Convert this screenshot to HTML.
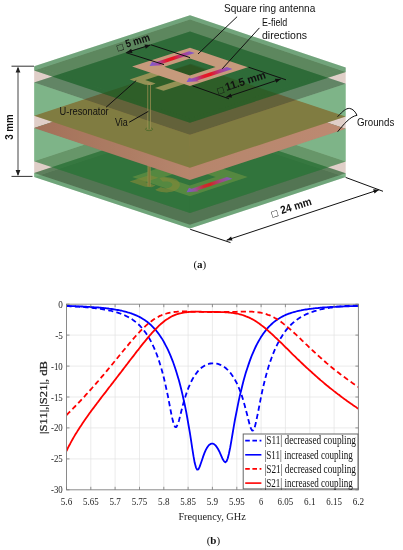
<!DOCTYPE html>
<html><head><meta charset="utf-8"><title>Figure</title><style>html,body{margin:0;padding:0;background:#fff}svg{display:block}</style></head><body>
<svg width="403" height="550" viewBox="0 0 403 550">
<rect width="403" height="550" fill="#fff"/>
<polygon points="34.2,176.9 190.0,125.4 345.7,177.1 189.9,228.6" fill="#0e5a1e" fill-opacity="0.425"/>
<polygon points="34.2,173.0 190.0,121.5 190.0,125.4 34.2,176.9" fill="#28823a" fill-opacity="0.370"/>
<polygon points="190.0,121.5 345.7,173.2 345.7,177.1 190.0,125.4" fill="#28823a" fill-opacity="0.370"/>
<polygon points="34.2,173.0 189.9,224.7 189.9,228.6 34.2,176.9" fill="#28823a" fill-opacity="0.370"/>
<polygon points="189.9,224.7 345.7,173.2 345.7,177.1 189.9,228.6" fill="#28823a" fill-opacity="0.370"/>
<polygon points="34.2,173.0 190.0,121.5 345.7,173.2 189.9,224.7" fill="#0e5a1e" fill-opacity="0.425"/>
<polygon points="34.2,173.0 190.0,121.5 345.7,173.2 189.9,224.7" fill="#efe6e2" style="mix-blend-mode:multiply"/>
<polygon points="34.2,161.2 190.0,109.8 190.0,121.5 34.2,173.0" fill="#efe6e2" style="mix-blend-mode:multiply"/>
<polygon points="190.0,109.8 345.7,161.6 345.7,173.2 190.0,121.5" fill="#efe6e2" style="mix-blend-mode:multiply"/>
<polygon points="34.2,161.2 189.9,213.0 189.9,224.7 34.2,173.0" fill="#efe6e2" style="mix-blend-mode:multiply"/>
<polygon points="189.9,213.0 345.7,161.6 345.7,173.2 189.9,224.7" fill="#efe6e2" style="mix-blend-mode:multiply"/>
<polygon points="34.2,161.2 190.0,109.8 345.7,161.6 189.9,213.0" fill="#efe6e2" style="mix-blend-mode:multiply"/>
<polygon points="34.2,161.2 190.0,109.8 345.7,161.6 189.9,213.0" fill="#105e20" fill-opacity="0.400"/>
<polygon points="34.2,128.0 190.0,76.8 190.0,109.8 34.2,161.2" fill="#28823a" fill-opacity="0.370"/>
<polygon points="190.0,76.8 345.7,128.7 345.7,161.6 190.0,109.8" fill="#28823a" fill-opacity="0.370"/>
<polygon points="34.2,128.0 189.9,180.0 189.9,213.0 34.2,161.2" fill="#28823a" fill-opacity="0.370"/>
<polygon points="189.9,180.0 345.7,128.7 345.7,161.6 189.9,213.0" fill="#28823a" fill-opacity="0.370"/>
<polygon points="34.2,128.0 190.0,76.8 345.7,128.7 189.9,180.0" fill="#105c20" fill-opacity="0.390"/>
<path d="M132.1 177.0 L190.0 157.8 L247.8 177.0 L189.9 196.2 Z M189.9 185.5 L215.6 177.0 L190.0 168.5 L164.3 177.0 Z" fill="#90a848" fill-opacity="0.38" fill-rule="evenodd"/>
<g opacity="0.85"><linearGradient id="ga3" gradientUnits="userSpaceOnUse" x1="229.7" y1="177.9" x2="186.5" y2="192.2"><stop offset="0" stop-color="#8458c8"/><stop offset="0.22" stop-color="#b03c8c"/><stop offset="0.45" stop-color="#e8141e"/><stop offset="0.6" stop-color="#e01a30"/><stop offset="0.8" stop-color="#a04aa8"/><stop offset="1" stop-color="#7a5cd8"/></linearGradient><polygon points="226.9,177.0 191.5,188.7 189.0,187.8 186.5,192.2 199.6,191.3 197.1,190.5 232.5,178.8" fill="url(#ga3)"/></g>
<path d="M129.6 181.6 L149.8 174.9 L158.4 177.7 L145.2 182.1 L155.6 185.6 L151.9 187.2 L145.2 186.7 Z M159.3 178.1 L161.7 177.5 L164.3 177.2 L166.9 177.2 L169.5 177.4 L172.0 177.9 L174.2 178.7 L176.2 179.6 L177.8 180.8 L178.9 182.0 L179.7 183.4 L179.9 184.8 L179.6 186.2 L178.9 187.6 L177.7 188.9 L176.1 190.0 L174.1 190.9 L171.9 191.7 L169.4 192.1 L166.8 192.4 L164.2 192.3 L161.6 192.0 L159.2 191.5 L157.0 190.7 L155.2 189.7 L161.0 187.0 L161.8 187.4 L162.8 187.8 L163.9 188.0 L165.1 188.2 L166.3 188.2 L167.5 188.1 L168.6 187.9 L169.7 187.5 L170.6 187.1 L171.3 186.6 L171.8 186.0 L172.2 185.4 L172.3 184.8 L172.2 184.2 L171.9 183.5 L171.3 183.0 L170.6 182.5 L169.7 182.0 L168.7 181.7 L167.5 181.5 L166.4 181.4 L165.2 181.4 L164.0 181.5 L162.9 181.8 Z" fill="#808838" fill-opacity="0.68"/>
<rect x="147.5" y="141.5" width="3.2" height="45.0" fill="#8c8a4a"/>
<rect x="148.6" y="141.5" width="1.0" height="45.0" fill="#7a7030"/>
<linearGradient id="gcu" gradientUnits="userSpaceOnUse" x1="40" y1="0" x2="345" y2="0"><stop offset="0" stop-color="#ba8c72"/><stop offset="0.5" stop-color="#d0a48a"/><stop offset="1" stop-color="#d8aa90"/></linearGradient>
<polygon points="34.2,128.0 190.0,76.8 345.7,128.7 189.9,180.0" fill="url(#gcu)"/>
<polygon points="34.2,128.0 190.0,76.8 345.7,128.7 189.9,180.0" fill="#efe6e2" style="mix-blend-mode:multiply"/>
<polygon points="34.2,115.7 190.0,64.5 190.0,76.8 34.2,128.0" fill="#efe6e2" style="mix-blend-mode:multiply"/>
<polygon points="190.0,64.5 345.7,116.6 345.7,128.7 190.0,76.8" fill="#efe6e2" style="mix-blend-mode:multiply"/>
<polygon points="34.2,115.7 189.9,167.7 189.9,180.0 34.2,128.0" fill="#efe6e2" style="mix-blend-mode:multiply"/>
<polygon points="189.9,167.7 345.7,116.6 345.7,128.7 189.9,180.0" fill="#efe6e2" style="mix-blend-mode:multiply"/>
<polygon points="34.2,115.7 190.0,64.5 345.7,116.6 189.9,167.7" fill="#efe6e2" style="mix-blend-mode:multiply"/>
<polygon points="34.2,115.7 190.0,64.5 345.7,116.6 189.9,167.7" fill="#b47947"/>
<ellipse cx="149.1" cy="129.2" rx="3.6" ry="1.5" fill="none" stroke="#5a5a20" stroke-width="0.8"/>
<polygon points="34.2,82.5 190.0,31.5 190.0,64.5 34.2,115.7" fill="#28823a" fill-opacity="0.370"/>
<polygon points="190.0,31.5 345.7,83.7 345.7,116.6 190.0,64.5" fill="#28823a" fill-opacity="0.370"/>
<rect x="147.3" y="84.0" width="3.6" height="45.2" fill="#b08c50"/>
<rect x="148.5" y="84.0" width="1.2" height="45.2" fill="#7a6a30"/>
<polygon points="34.2,82.5 189.9,134.7 189.9,167.7 34.2,115.7" fill="#28823a" fill-opacity="0.370"/>
<polygon points="189.9,134.7 345.7,83.7 345.7,116.6 189.9,167.7" fill="#28823a" fill-opacity="0.370"/>
<polygon points="34.2,82.5 190.0,31.5 345.7,83.7 189.9,134.7" fill="#2d784b" fill-opacity="0.500"/>
<polygon points="34.2,82.5 190.0,31.5 345.7,83.7 189.9,134.7" fill="#efe6e2" style="mix-blend-mode:multiply"/>
<polygon points="34.2,70.5 190.0,19.6 190.0,31.5 34.2,82.5" fill="#efe6e2" style="mix-blend-mode:multiply"/>
<polygon points="190.0,19.6 345.7,71.9 345.7,83.7 190.0,31.5" fill="#efe6e2" style="mix-blend-mode:multiply"/>
<polygon points="34.2,70.5 189.9,122.8 189.9,134.7 34.2,82.5" fill="#efe6e2" style="mix-blend-mode:multiply"/>
<polygon points="189.9,122.8 345.7,71.9 345.7,83.7 189.9,134.7" fill="#efe6e2" style="mix-blend-mode:multiply"/>
<polygon points="34.2,70.5 190.0,19.6 345.7,71.9 189.9,122.8" fill="#efe6e2" style="mix-blend-mode:multiply"/>
<polygon points="34.2,70.5 190.0,19.6 345.7,71.9 189.9,122.8" fill="#105c20" fill-opacity="0.390"/>
<polygon points="34.2,66.2 190.0,15.3 190.0,19.6 34.2,70.5" fill="#28823a" fill-opacity="0.370"/>
<polygon points="190.0,15.3 345.7,67.6 345.7,71.9 190.0,19.6" fill="#28823a" fill-opacity="0.370"/>
<polygon points="167.4,71.3 190.7,63.7 214.1,71.5 190.7,79.2" fill="#3a3a10" fill-opacity="0.350"/>
<polygon points="129.6,79.4 163.5,68.3 197.3,79.7 163.5,90.8 154.9,87.9 182.5,78.9 165.8,73.3 145.2,80.0 155.6,83.5 151.9,85.1 145.2,84.7" fill="#e6b478"/>
<polygon points="34.2,66.2 189.9,118.5 189.9,122.8 34.2,70.5" fill="#105c20" fill-opacity="0.390"/>
<polygon points="189.9,118.5 345.7,67.6 345.7,71.9 189.9,122.8" fill="#105c20" fill-opacity="0.390"/>
<polygon points="34.2,66.2 190.0,15.3 345.7,67.6 189.9,118.5" fill="#105c20" fill-opacity="0.390"/>
<path d="M132.1 66.6 L190.0 47.7 L247.8 67.2 L189.9 86.1 Z M189.9 75.4 L215.6 67.0 L190.0 58.4 L164.3 66.8 Z" fill="#c69a7c" fill-rule="evenodd"/>
<g opacity="0.75"><rect x="147.2" y="84.0" width="1.1" height="45.2" fill="#9c8c50"/><rect x="149.9" y="84.0" width="1.1" height="45.2" fill="#9c8c50"/><ellipse cx="149.1" cy="84.0" rx="1.8" ry="0.8" fill="#b09860"/></g>
<linearGradient id="ga1" gradientUnits="userSpaceOnUse" x1="192.0" y1="52.2" x2="149.5" y2="66.1"><stop offset="0" stop-color="#8458c8"/><stop offset="0.22" stop-color="#b03c8c"/><stop offset="0.45" stop-color="#e8141e"/><stop offset="0.6" stop-color="#e01a30"/><stop offset="0.8" stop-color="#a04aa8"/><stop offset="1" stop-color="#7a5cd8"/></linearGradient><polygon points="189.2,51.3 154.5,62.6 152.0,61.8 149.5,66.1 162.6,65.3 160.1,64.5 194.8,53.1" fill="url(#ga1)"/>
<linearGradient id="ga2" gradientUnits="userSpaceOnUse" x1="229.7" y1="68.0" x2="186.5" y2="82.1"><stop offset="0" stop-color="#8458c8"/><stop offset="0.22" stop-color="#b03c8c"/><stop offset="0.45" stop-color="#e8141e"/><stop offset="0.6" stop-color="#e01a30"/><stop offset="0.8" stop-color="#a04aa8"/><stop offset="1" stop-color="#7a5cd8"/></linearGradient><polygon points="226.9,67.0 191.5,78.6 189.0,77.7 186.5,82.1 199.6,81.3 197.1,80.5 232.5,68.9" fill="url(#ga2)"/>
<line x1="18.0" y1="68.0" x2="18.0" y2="175.0" stroke="#444" stroke-width="1.00"/>
<polygon points="18.0,66.6 20.4,72.6 15.6,72.6" fill="#222"/>
<polygon points="18.0,176.0 15.6,170.0 20.4,170.0" fill="#222"/>
<line x1="11.5" y1="66.2" x2="34.0" y2="66.2" stroke="#333" stroke-width="1.00"/>
<line x1="11.5" y1="176.4" x2="32.5" y2="176.4" stroke="#333" stroke-width="1.00"/>
<text transform="translate(13,139.8) rotate(-90)" font-family="'Liberation Sans', 'DejaVu Sans', sans-serif" font-size="10.8" font-weight="bold" fill="#111" textLength="25.6" lengthAdjust="spacingAndGlyphs">3 mm</text>
<line x1="125.9" y1="52.6" x2="164.0" y2="64.6" stroke="#111" stroke-width="1.00"/>
<line x1="151.0" y1="44.8" x2="190.0" y2="57.6" stroke="#111" stroke-width="1.00"/>
<line x1="126.6" y1="52.4" x2="150.4" y2="45.0" stroke="#111" stroke-width="1.00"/><polygon points="126.6,52.4 131.2,48.7 132.5,52.9" fill="#111"/><polygon points="150.4,45.0 145.8,48.7 144.5,44.5" fill="#111"/>
<g transform="translate(118,50.6) rotate(-17.5)"><text x="-0.8" y="-0.2" font-family="DejaVu Sans, Liberation Sans, sans-serif" font-size="8" font-weight="bold" fill="#111">□</text><text x="9.2" y="0" font-family="'Liberation Sans', 'DejaVu Sans', sans-serif" font-size="11" font-weight="bold" fill="#111" textLength="25" lengthAdjust="spacingAndGlyphs">5 mm</text></g>
<line x1="192.5" y1="85.8" x2="229.0" y2="98.8" stroke="#111" stroke-width="1.00"/>
<line x1="248.5" y1="67.2" x2="286.0" y2="79.8" stroke="#111" stroke-width="1.00"/>
<line x1="226.2" y1="97.2" x2="280.8" y2="79.0" stroke="#111" stroke-width="1.00"/><polygon points="226.2,97.2 230.7,93.4 232.1,97.5" fill="#111"/><polygon points="280.8,79.0 276.3,82.8 274.9,78.7" fill="#111"/>
<g transform="translate(218.5,93.6) rotate(-18)"><text x="-0.8" y="-0.2" font-family="DejaVu Sans, Liberation Sans, sans-serif" font-size="8" font-weight="bold" fill="#111">□</text><text x="8.5" y="0" font-family="'Liberation Sans', 'DejaVu Sans', sans-serif" font-size="11" font-weight="bold" fill="#111" textLength="42" lengthAdjust="spacingAndGlyphs">11.5 mm</text></g>
<line x1="190.2" y1="229.3" x2="230.5" y2="242.6" stroke="#111" stroke-width="1.00"/>
<line x1="345.6" y1="177.4" x2="383.0" y2="191.3" stroke="#111" stroke-width="1.00"/>
<line x1="226.6" y1="240.2" x2="379.0" y2="189.7" stroke="#111" stroke-width="1.00"/><polygon points="226.6,240.2 231.1,236.4 232.5,240.6" fill="#111"/><polygon points="379.0,189.7 374.5,193.5 373.1,189.3" fill="#111"/>
<g transform="translate(272.6,217) rotate(-17.5)"><text x="-0.8" y="-0.2" font-family="DejaVu Sans, Liberation Sans, sans-serif" font-size="8" font-weight="bold" fill="#111">□</text><text x="9.6" y="0" font-family="'Liberation Sans', 'DejaVu Sans', sans-serif" font-size="11" font-weight="bold" fill="#111" textLength="32" lengthAdjust="spacingAndGlyphs">24 mm</text></g>
<line x1="237.1" y1="16.7" x2="198.0" y2="54.0" stroke="#111" stroke-width="1.00"/>
<line x1="259.4" y1="27.9" x2="222.2" y2="68.8" stroke="#111" stroke-width="1.00"/>
<line x1="106.0" y1="107.3" x2="136.2" y2="80.6" stroke="#111" stroke-width="1.00"/>
<line x1="129.1" y1="122.3" x2="148.3" y2="111.4" stroke="#111" stroke-width="1.00"/>
<path d="M337.6 116.7 C343 111 346 108.2 349.5 108.4 C353 108.8 355.5 112 357 115.3 C350 116.5 344 124 337.6 131.8" fill="none" stroke="#111" stroke-width="1"/>
<text x="224.0" y="12.0" font-family="'Liberation Sans', 'DejaVu Sans', sans-serif" font-size="10.6" font-weight="normal" fill="#111" text-anchor="start" textLength="91.3" lengthAdjust="spacingAndGlyphs">Square ring antenna</text>
<text x="262.0" y="26.0" font-family="'Liberation Sans', 'DejaVu Sans', sans-serif" font-size="10.6" font-weight="normal" fill="#111" text-anchor="start" textLength="25.3" lengthAdjust="spacingAndGlyphs">E-field</text>
<text x="262.0" y="39.0" font-family="'Liberation Sans', 'DejaVu Sans', sans-serif" font-size="10.6" font-weight="normal" fill="#111" text-anchor="start" textLength="45.0" lengthAdjust="spacingAndGlyphs">directions</text>
<text x="59.6" y="115.0" font-family="'Liberation Sans', 'DejaVu Sans', sans-serif" font-size="10.6" font-weight="normal" fill="#111" text-anchor="start" textLength="49.1" lengthAdjust="spacingAndGlyphs">U-resonator</text>
<text x="115.0" y="125.9" font-family="'Liberation Sans', 'DejaVu Sans', sans-serif" font-size="10.6" font-weight="normal" fill="#111" text-anchor="start" textLength="12.8" lengthAdjust="spacingAndGlyphs">Via</text>
<text x="357.0" y="125.6" font-family="'Liberation Sans', 'DejaVu Sans', sans-serif" font-size="10.6" font-weight="normal" fill="#111" text-anchor="start" textLength="37.3" lengthAdjust="spacingAndGlyphs">Grounds</text>
<text x="199.8" y="268.1" font-family="'Liberation Serif', 'DejaVu Serif', serif" font-size="11" fill="#111" text-anchor="middle">(<tspan font-weight="bold">a</tspan>)</text>
<rect x="66.5" y="304.2" width="291.9" height="185.6" fill="#fff"/>
<line x1="90.8" y1="304.2" x2="90.8" y2="489.8" stroke="#e2e2e2" stroke-width="0.70"/>
<line x1="115.1" y1="304.2" x2="115.1" y2="489.8" stroke="#e2e2e2" stroke-width="0.70"/>
<line x1="139.5" y1="304.2" x2="139.5" y2="489.8" stroke="#e2e2e2" stroke-width="0.70"/>
<line x1="163.8" y1="304.2" x2="163.8" y2="489.8" stroke="#e2e2e2" stroke-width="0.70"/>
<line x1="188.1" y1="304.2" x2="188.1" y2="489.8" stroke="#e2e2e2" stroke-width="0.70"/>
<line x1="212.4" y1="304.2" x2="212.4" y2="489.8" stroke="#e2e2e2" stroke-width="0.70"/>
<line x1="236.8" y1="304.2" x2="236.8" y2="489.8" stroke="#e2e2e2" stroke-width="0.70"/>
<line x1="261.1" y1="304.2" x2="261.1" y2="489.8" stroke="#e2e2e2" stroke-width="0.70"/>
<line x1="285.4" y1="304.2" x2="285.4" y2="489.8" stroke="#e2e2e2" stroke-width="0.70"/>
<line x1="309.8" y1="304.2" x2="309.8" y2="489.8" stroke="#e2e2e2" stroke-width="0.70"/>
<line x1="334.1" y1="304.2" x2="334.1" y2="489.8" stroke="#e2e2e2" stroke-width="0.70"/>
<line x1="66.5" y1="335.1" x2="358.4" y2="335.1" stroke="#e2e2e2" stroke-width="0.70"/>
<line x1="66.5" y1="366.1" x2="358.4" y2="366.1" stroke="#e2e2e2" stroke-width="0.70"/>
<line x1="66.5" y1="397.0" x2="358.4" y2="397.0" stroke="#e2e2e2" stroke-width="0.70"/>
<line x1="66.5" y1="427.9" x2="358.4" y2="427.9" stroke="#e2e2e2" stroke-width="0.70"/>
<line x1="66.5" y1="458.9" x2="358.4" y2="458.9" stroke="#e2e2e2" stroke-width="0.70"/>
<clipPath id="pc"><rect x="66.5" y="304.2" width="291.9" height="185.6"/></clipPath>
<g clip-path="url(#pc)" fill="none" stroke-width="1.8" stroke-linejoin="round">
<path d="M66.5 306.1 L67.7 306.1 L68.9 306.2 L70.2 306.3 L71.4 306.3 L72.6 306.4 L73.8 306.4 L75.0 306.5 L76.3 306.6 L77.5 306.7 L78.7 306.7 L79.9 306.8 L81.2 306.9 L82.4 307.0 L83.6 307.1 L84.8 307.2 L86.0 307.3 L87.3 307.4 L88.5 307.5 L89.7 307.6 L90.9 307.7 L92.1 307.9 L93.4 308.0 L94.6 308.1 L95.8 308.3 L97.0 308.4 L98.3 308.6 L99.5 308.8 L100.7 308.9 L101.9 309.1 L103.1 309.3 L104.4 309.5 L105.6 309.7 L106.8 310.0 L108.0 310.2 L109.2 310.5 L110.5 310.7 L111.7 311.0 L112.9 311.3 L114.1 311.6 L115.4 312.0 L116.6 312.3 L117.8 312.7 L119.0 313.1 L120.2 313.5 L121.5 314.0 L122.7 314.5 L123.9 315.0 L125.1 315.5 L126.3 316.1 L127.6 316.7 L128.8 317.4 L130.0 318.1 L131.2 318.8 L132.5 319.6 L133.7 320.5 L134.9 321.4 L136.1 322.4 L137.3 323.4 L138.6 324.5 L139.8 325.7 L141.0 327.0 L142.2 328.4 L143.4 329.9 L144.7 331.4 L145.9 333.1 L147.1 334.9 L148.3 336.8 L149.6 338.9 L150.8 341.1 L152.0 343.5 L153.2 346.0 L154.4 348.7 L155.7 351.7 L156.9 354.8 L158.1 358.2 L159.3 361.8 L160.5 365.7 L161.8 369.9 L163.0 374.4 L164.2 379.3 L165.4 384.5 L166.6 390.1 L167.9 396.0 L169.1 402.3 L170.3 408.7 L171.5 414.9 L172.8 420.6 L174.0 424.9 L175.2 427.1 L176.4 427.0 L177.6 424.6 L178.9 420.8 L180.1 416.1 L181.3 411.3 L182.5 406.5 L183.7 402.1 L185.0 397.9 L186.2 394.1 L187.4 390.6 L188.6 387.4 L189.9 384.5 L191.1 381.9 L192.3 379.5 L193.5 377.4 L194.7 375.5 L196.0 373.7 L197.2 372.1 L198.4 370.7 L199.6 369.5 L200.8 368.3 L202.1 367.3 L203.3 366.5 L204.5 365.7 L205.7 365.1 L207.0 364.5 L208.2 364.1 L209.4 363.7 L210.6 363.5 L211.8 363.3 L213.1 363.3 L214.3 363.3 L215.5 363.4 L216.7 363.6 L217.9 363.9 L219.2 364.3 L220.4 364.8 L221.6 365.4 L222.8 366.1 L224.1 366.9 L225.3 367.8 L226.5 368.8 L227.7 369.9 L228.9 371.2 L230.2 372.6 L231.4 374.2 L232.6 375.9 L233.8 377.8 L235.0 379.9 L236.3 382.2 L237.5 384.7 L238.7 387.5 L239.9 390.5 L241.2 393.9 L242.4 397.5 L243.6 401.5 L244.8 405.8 L246.0 410.4 L247.3 415.3 L248.5 420.2 L249.7 424.8 L250.9 428.4 L252.1 430.5 L253.4 430.3 L254.6 427.7 L255.8 423.1 L257.0 417.4 L258.3 411.1 L259.5 404.8 L260.7 398.6 L261.9 392.7 L263.1 387.2 L264.4 382.0 L265.6 377.2 L266.8 372.7 L268.0 368.5 L269.2 364.6 L270.5 360.9 L271.7 357.5 L272.9 354.3 L274.1 351.3 L275.3 348.5 L276.6 345.8 L277.8 343.4 L279.0 341.1 L280.2 338.9 L281.5 336.9 L282.7 335.0 L283.9 333.2 L285.1 331.5 L286.3 329.9 L287.6 328.4 L288.8 327.0 L290.0 325.7 L291.2 324.5 L292.4 323.4 L293.7 322.3 L294.9 321.3 L296.1 320.3 L297.3 319.4 L298.6 318.6 L299.8 317.8 L301.0 317.0 L302.2 316.3 L303.4 315.7 L304.7 315.0 L305.9 314.4 L307.1 313.9 L308.3 313.4 L309.5 312.9 L310.8 312.4 L312.0 312.0 L313.2 311.6 L314.4 311.2 L315.7 310.8 L316.9 310.5 L318.1 310.1 L319.3 309.8 L320.5 309.5 L321.8 309.2 L323.0 309.0 L324.2 308.7 L325.4 308.5 L326.6 308.3 L327.9 308.1 L329.1 307.9 L330.3 307.7 L331.5 307.5 L332.8 307.3 L334.0 307.1 L335.2 307.0 L336.4 306.8 L337.6 306.7 L338.9 306.6 L340.1 306.4 L341.3 306.3 L342.5 306.2 L343.7 306.1 L345.0 306.0 L346.2 305.9 L347.4 305.8 L348.6 305.7 L349.9 305.6 L351.1 305.5 L352.3 305.4 L353.5 305.4 L354.7 305.3 L356.0 305.2 L357.2 305.1 L358.4 305.1" stroke="#0000ff" stroke-dasharray="5.2 3.2"/>
<path d="M66.5 306.0 L67.7 306.0 L68.9 306.0 L70.2 306.1 L71.4 306.1 L72.6 306.2 L73.8 306.2 L75.0 306.2 L76.3 306.3 L77.5 306.3 L78.7 306.4 L79.9 306.4 L81.2 306.5 L82.4 306.5 L83.6 306.6 L84.8 306.7 L86.0 306.7 L87.3 306.8 L88.5 306.9 L89.7 306.9 L90.9 307.0 L92.1 307.1 L93.4 307.2 L94.6 307.3 L95.8 307.3 L97.0 307.4 L98.3 307.5 L99.5 307.6 L100.7 307.7 L101.9 307.9 L103.1 308.0 L104.4 308.1 L105.6 308.2 L106.8 308.4 L108.0 308.5 L109.2 308.7 L110.5 308.8 L111.7 309.0 L112.9 309.2 L114.1 309.4 L115.4 309.6 L116.6 309.8 L117.8 310.0 L119.0 310.2 L120.2 310.5 L121.5 310.7 L122.7 311.0 L123.9 311.3 L125.1 311.6 L126.3 311.9 L127.6 312.3 L128.8 312.6 L130.0 313.0 L131.2 313.4 L132.5 313.9 L133.7 314.3 L134.9 314.8 L136.1 315.3 L137.3 315.9 L138.6 316.5 L139.8 317.1 L141.0 317.8 L142.2 318.5 L143.4 319.3 L144.7 320.1 L145.9 320.9 L147.1 321.8 L148.3 322.8 L149.6 323.8 L150.8 324.9 L152.0 326.1 L153.2 327.3 L154.4 328.6 L155.7 330.0 L156.9 331.5 L158.1 333.1 L159.3 334.8 L160.5 336.5 L161.8 338.4 L163.0 340.4 L164.2 342.5 L165.4 344.8 L166.6 347.2 L167.9 349.7 L169.1 352.4 L170.3 355.2 L171.5 358.2 L172.8 361.3 L174.0 364.7 L175.2 368.2 L176.4 372.0 L177.6 376.0 L178.9 380.2 L180.1 384.7 L181.3 389.5 L182.5 394.6 L183.7 400.0 L185.0 405.8 L186.2 411.9 L187.4 418.5 L188.6 425.5 L189.9 432.9 L191.1 440.7 L192.3 448.6 L193.5 456.2 L194.7 462.8 L196.0 467.6 L197.2 469.7 L198.4 469.3 L199.6 466.9 L200.8 463.5 L202.1 459.7 L203.3 456.1 L204.5 452.9 L205.7 450.1 L207.0 447.8 L208.2 446.0 L209.4 444.7 L210.6 443.9 L211.8 443.6 L213.1 443.7 L214.3 444.3 L215.5 445.4 L216.7 446.9 L217.9 448.8 L219.2 451.2 L220.4 453.8 L221.6 456.6 L222.8 459.3 L224.1 461.4 L225.3 462.3 L226.5 461.4 L227.7 458.5 L228.9 453.7 L230.2 447.5 L231.4 440.6 L232.6 433.5 L233.8 426.4 L235.0 419.5 L236.3 413.0 L237.5 406.8 L238.7 400.9 L239.9 395.4 L241.2 390.2 L242.4 385.2 L243.6 380.6 L244.8 376.3 L246.0 372.1 L247.3 368.3 L248.5 364.6 L249.7 361.1 L250.9 357.9 L252.1 354.8 L253.4 351.9 L254.6 349.1 L255.8 346.5 L257.0 344.1 L258.3 341.8 L259.5 339.6 L260.7 337.6 L261.9 335.7 L263.1 333.9 L264.4 332.2 L265.6 330.6 L266.8 329.1 L268.0 327.7 L269.2 326.4 L270.5 325.2 L271.7 324.0 L272.9 322.9 L274.1 321.9 L275.3 321.0 L276.6 320.1 L277.8 319.2 L279.0 318.5 L280.2 317.7 L281.5 317.0 L282.7 316.4 L283.9 315.8 L285.1 315.2 L286.3 314.7 L287.6 314.2 L288.8 313.7 L290.0 313.3 L291.2 312.9 L292.4 312.5 L293.7 312.1 L294.9 311.8 L296.1 311.5 L297.3 311.2 L298.6 310.9 L299.8 310.6 L301.0 310.4 L302.2 310.1 L303.4 309.9 L304.7 309.7 L305.9 309.5 L307.1 309.3 L308.3 309.1 L309.5 308.9 L310.8 308.8 L312.0 308.6 L313.2 308.5 L314.4 308.3 L315.7 308.2 L316.9 308.1 L318.1 308.0 L319.3 307.8 L320.5 307.7 L321.8 307.6 L323.0 307.5 L324.2 307.4 L325.4 307.4 L326.6 307.3 L327.9 307.2 L329.1 307.1 L330.3 307.0 L331.5 307.0 L332.8 306.9 L334.0 306.8 L335.2 306.8 L336.4 306.7 L337.6 306.7 L338.9 306.6 L340.1 306.6 L341.3 306.5 L342.5 306.5 L343.7 306.4 L345.0 306.4 L346.2 306.3 L347.4 306.3 L348.6 306.3 L349.9 306.2 L351.1 306.2 L352.3 306.2 L353.5 306.1 L354.7 306.1 L356.0 306.1 L357.2 306.0 L358.4 306.0" stroke="#0000ff"/>
<path d="M66.5 415.2 L67.7 413.9 L68.9 412.7 L70.2 411.5 L71.4 410.2 L72.6 409.0 L73.8 407.7 L75.0 406.5 L76.3 405.2 L77.5 403.9 L78.7 402.6 L79.9 401.3 L81.2 400.0 L82.4 398.7 L83.6 397.4 L84.8 396.1 L86.0 394.7 L87.3 393.4 L88.5 392.0 L89.7 390.7 L90.9 389.3 L92.1 388.0 L93.4 386.6 L94.6 385.2 L95.8 383.8 L97.0 382.4 L98.3 381.0 L99.5 379.6 L100.7 378.1 L101.9 376.7 L103.1 375.3 L104.4 373.8 L105.6 372.4 L106.8 370.9 L108.0 369.4 L109.2 368.0 L110.5 366.5 L111.7 365.0 L112.9 363.5 L114.1 362.0 L115.4 360.5 L116.6 359.0 L117.8 357.5 L119.0 356.0 L120.2 354.5 L121.5 353.0 L122.7 351.5 L123.9 350.0 L125.1 348.6 L126.3 347.1 L127.6 345.6 L128.8 344.1 L130.0 342.7 L131.2 341.2 L132.5 339.8 L133.7 338.4 L134.9 337.0 L136.1 335.6 L137.3 334.3 L138.6 333.0 L139.8 331.7 L141.0 330.4 L142.2 329.2 L143.4 328.0 L144.7 326.8 L145.9 325.7 L147.1 324.6 L148.3 323.5 L149.6 322.5 L150.8 321.6 L152.0 320.7 L153.2 319.8 L154.4 319.0 L155.7 318.2 L156.9 317.5 L158.1 316.9 L159.3 316.2 L160.5 315.7 L161.8 315.1 L163.0 314.7 L164.2 314.2 L165.4 313.8 L166.6 313.5 L167.9 313.2 L169.1 312.9 L170.3 312.6 L171.5 312.4 L172.8 312.2 L174.0 312.0 L175.2 311.9 L176.4 311.8 L177.6 311.7 L178.9 311.6 L180.1 311.6 L181.3 311.5 L182.5 311.5 L183.7 311.5 L185.0 311.5 L186.2 311.5 L187.4 311.5 L188.6 311.5 L189.9 311.5 L191.1 311.6 L192.3 311.6 L193.5 311.6 L194.7 311.7 L196.0 311.7 L197.2 311.7 L198.4 311.8 L199.6 311.8 L200.8 311.8 L202.1 311.9 L203.3 311.9 L204.5 311.9 L205.7 312.0 L207.0 312.0 L208.2 312.0 L209.4 312.0 L210.6 312.0 L211.8 312.1 L213.1 312.1 L214.3 312.1 L215.5 312.1 L216.7 312.1 L217.9 312.1 L219.2 312.1 L220.4 312.1 L221.6 312.1 L222.8 312.1 L224.1 312.0 L225.3 312.0 L226.5 312.0 L227.7 312.0 L228.9 312.0 L230.2 311.9 L231.4 311.9 L232.6 311.9 L233.8 311.8 L235.0 311.8 L236.3 311.8 L237.5 311.7 L238.7 311.7 L239.9 311.7 L241.2 311.7 L242.4 311.6 L243.6 311.6 L244.8 311.6 L246.0 311.6 L247.3 311.6 L248.5 311.6 L249.7 311.6 L250.9 311.7 L252.1 311.7 L253.4 311.8 L254.6 311.9 L255.8 312.0 L257.0 312.2 L258.3 312.3 L259.5 312.5 L260.7 312.7 L261.9 313.0 L263.1 313.3 L264.4 313.6 L265.6 313.9 L266.8 314.3 L268.0 314.8 L269.2 315.2 L270.5 315.7 L271.7 316.3 L272.9 316.9 L274.1 317.5 L275.3 318.2 L276.6 318.9 L277.8 319.7 L279.0 320.5 L280.2 321.3 L281.5 322.2 L282.7 323.1 L283.9 324.1 L285.1 325.0 L286.3 326.0 L287.6 327.1 L288.8 328.1 L290.0 329.2 L291.2 330.3 L292.4 331.4 L293.7 332.5 L294.9 333.6 L296.1 334.7 L297.3 335.9 L298.6 337.1 L299.8 338.2 L301.0 339.4 L302.2 340.6 L303.4 341.7 L304.7 342.9 L305.9 344.1 L307.1 345.2 L308.3 346.4 L309.5 347.6 L310.8 348.7 L312.0 349.9 L313.2 351.0 L314.4 352.1 L315.7 353.3 L316.9 354.4 L318.1 355.5 L319.3 356.6 L320.5 357.7 L321.8 358.8 L323.0 359.9 L324.2 361.0 L325.4 362.0 L326.6 363.1 L327.9 364.1 L329.1 365.1 L330.3 366.2 L331.5 367.2 L332.8 368.2 L334.0 369.2 L335.2 370.1 L336.4 371.1 L337.6 372.1 L338.9 373.0 L340.1 374.0 L341.3 374.9 L342.5 375.8 L343.7 376.7 L345.0 377.6 L346.2 378.5 L347.4 379.4 L348.6 380.3 L349.9 381.2 L351.1 382.0 L352.3 382.9 L353.5 383.7 L354.7 384.6 L356.0 385.4 L357.2 386.2 L358.4 387.0" stroke="#ff0000" stroke-dasharray="5.2 3.2"/>
<path d="M66.5 451.0 L67.7 448.4 L68.9 446.0 L70.2 443.7 L71.4 441.4 L72.6 439.3 L73.8 437.1 L75.0 435.1 L76.3 433.1 L77.5 431.1 L78.7 429.2 L79.9 427.3 L81.2 425.4 L82.4 423.6 L83.6 421.8 L84.8 420.0 L86.0 418.3 L87.3 416.5 L88.5 414.8 L89.7 413.1 L90.9 411.4 L92.1 409.8 L93.4 408.1 L94.6 406.5 L95.8 404.9 L97.0 403.2 L98.3 401.6 L99.5 400.0 L100.7 398.4 L101.9 396.8 L103.1 395.2 L104.4 393.6 L105.6 392.1 L106.8 390.5 L108.0 388.9 L109.2 387.3 L110.5 385.7 L111.7 384.1 L112.9 382.6 L114.1 381.0 L115.4 379.4 L116.6 377.8 L117.8 376.2 L119.0 374.6 L120.2 373.1 L121.5 371.5 L122.7 369.9 L123.9 368.3 L125.1 366.7 L126.3 365.1 L127.6 363.5 L128.8 361.9 L130.0 360.3 L131.2 358.7 L132.5 357.1 L133.7 355.6 L134.9 354.0 L136.1 352.4 L137.3 350.8 L138.6 349.3 L139.8 347.7 L141.0 346.1 L142.2 344.6 L143.4 343.1 L144.7 341.6 L145.9 340.1 L147.1 338.6 L148.3 337.1 L149.6 335.7 L150.8 334.3 L152.0 332.9 L153.2 331.6 L154.4 330.3 L155.7 329.0 L156.9 327.8 L158.1 326.6 L159.3 325.4 L160.5 324.3 L161.8 323.2 L163.0 322.2 L164.2 321.2 L165.4 320.3 L166.6 319.5 L167.9 318.7 L169.1 317.9 L170.3 317.2 L171.5 316.5 L172.8 315.9 L174.0 315.4 L175.2 314.9 L176.4 314.4 L177.6 314.0 L178.9 313.7 L180.1 313.3 L181.3 313.1 L182.5 312.8 L183.7 312.6 L185.0 312.4 L186.2 312.3 L187.4 312.1 L188.6 312.0 L189.9 311.9 L191.1 311.9 L192.3 311.8 L193.5 311.8 L194.7 311.8 L196.0 311.7 L197.2 311.7 L198.4 311.7 L199.6 311.7 L200.8 311.7 L202.1 311.8 L203.3 311.8 L204.5 311.8 L205.7 311.8 L207.0 311.8 L208.2 311.9 L209.4 311.9 L210.6 311.9 L211.8 311.9 L213.1 311.9 L214.3 312.0 L215.5 312.0 L216.7 312.0 L217.9 312.0 L219.2 312.1 L220.4 312.1 L221.6 312.1 L222.8 312.2 L224.1 312.2 L225.3 312.3 L226.5 312.4 L227.7 312.4 L228.9 312.5 L230.2 312.7 L231.4 312.8 L232.6 312.9 L233.8 313.1 L235.0 313.3 L236.3 313.5 L237.5 313.7 L238.7 314.0 L239.9 314.3 L241.2 314.6 L242.4 315.0 L243.6 315.4 L244.8 315.8 L246.0 316.3 L247.3 316.8 L248.5 317.3 L249.7 317.9 L250.9 318.5 L252.1 319.1 L253.4 319.8 L254.6 320.5 L255.8 321.3 L257.0 322.1 L258.3 322.9 L259.5 323.8 L260.7 324.7 L261.9 325.6 L263.1 326.5 L264.4 327.5 L265.6 328.5 L266.8 329.5 L268.0 330.6 L269.2 331.7 L270.5 332.8 L271.7 333.9 L272.9 335.0 L274.1 336.1 L275.3 337.3 L276.6 338.5 L277.8 339.6 L279.0 340.8 L280.2 342.0 L281.5 343.2 L282.7 344.4 L283.9 345.6 L285.1 346.8 L286.3 348.0 L287.6 349.2 L288.8 350.4 L290.0 351.7 L291.2 352.9 L292.4 354.1 L293.7 355.3 L294.9 356.4 L296.1 357.6 L297.3 358.8 L298.6 360.0 L299.8 361.2 L301.0 362.3 L302.2 363.5 L303.4 364.7 L304.7 365.8 L305.9 367.0 L307.1 368.1 L308.3 369.2 L309.5 370.3 L310.8 371.4 L312.0 372.5 L313.2 373.6 L314.4 374.7 L315.7 375.8 L316.9 376.9 L318.1 378.0 L319.3 379.0 L320.5 380.1 L321.8 381.1 L323.0 382.1 L324.2 383.2 L325.4 384.2 L326.6 385.2 L327.9 386.2 L329.1 387.2 L330.3 388.2 L331.5 389.1 L332.8 390.1 L334.0 391.1 L335.2 392.0 L336.4 393.0 L337.6 393.9 L338.9 394.8 L340.1 395.8 L341.3 396.7 L342.5 397.6 L343.7 398.5 L345.0 399.4 L346.2 400.3 L347.4 401.2 L348.6 402.0 L349.9 402.9 L351.1 403.8 L352.3 404.6 L353.5 405.5 L354.7 406.3 L356.0 407.1 L357.2 408.0 L358.4 408.8" stroke="#ff0000"/>
</g>
<rect x="66.5" y="304.2" width="291.9" height="185.6" fill="none" stroke="#8a8a8a" stroke-width="1"/>
<line x1="66.5" y1="489.8" x2="66.5" y2="486.8" stroke="#777" stroke-width="0.80"/>
<line x1="66.5" y1="304.2" x2="66.5" y2="307.2" stroke="#777" stroke-width="0.80"/>
<line x1="90.8" y1="489.8" x2="90.8" y2="486.8" stroke="#777" stroke-width="0.80"/>
<line x1="90.8" y1="304.2" x2="90.8" y2="307.2" stroke="#777" stroke-width="0.80"/>
<line x1="115.1" y1="489.8" x2="115.1" y2="486.8" stroke="#777" stroke-width="0.80"/>
<line x1="115.1" y1="304.2" x2="115.1" y2="307.2" stroke="#777" stroke-width="0.80"/>
<line x1="139.5" y1="489.8" x2="139.5" y2="486.8" stroke="#777" stroke-width="0.80"/>
<line x1="139.5" y1="304.2" x2="139.5" y2="307.2" stroke="#777" stroke-width="0.80"/>
<line x1="163.8" y1="489.8" x2="163.8" y2="486.8" stroke="#777" stroke-width="0.80"/>
<line x1="163.8" y1="304.2" x2="163.8" y2="307.2" stroke="#777" stroke-width="0.80"/>
<line x1="188.1" y1="489.8" x2="188.1" y2="486.8" stroke="#777" stroke-width="0.80"/>
<line x1="188.1" y1="304.2" x2="188.1" y2="307.2" stroke="#777" stroke-width="0.80"/>
<line x1="212.4" y1="489.8" x2="212.4" y2="486.8" stroke="#777" stroke-width="0.80"/>
<line x1="212.4" y1="304.2" x2="212.4" y2="307.2" stroke="#777" stroke-width="0.80"/>
<line x1="236.8" y1="489.8" x2="236.8" y2="486.8" stroke="#777" stroke-width="0.80"/>
<line x1="236.8" y1="304.2" x2="236.8" y2="307.2" stroke="#777" stroke-width="0.80"/>
<line x1="261.1" y1="489.8" x2="261.1" y2="486.8" stroke="#777" stroke-width="0.80"/>
<line x1="261.1" y1="304.2" x2="261.1" y2="307.2" stroke="#777" stroke-width="0.80"/>
<line x1="285.4" y1="489.8" x2="285.4" y2="486.8" stroke="#777" stroke-width="0.80"/>
<line x1="285.4" y1="304.2" x2="285.4" y2="307.2" stroke="#777" stroke-width="0.80"/>
<line x1="309.8" y1="489.8" x2="309.8" y2="486.8" stroke="#777" stroke-width="0.80"/>
<line x1="309.8" y1="304.2" x2="309.8" y2="307.2" stroke="#777" stroke-width="0.80"/>
<line x1="334.1" y1="489.8" x2="334.1" y2="486.8" stroke="#777" stroke-width="0.80"/>
<line x1="334.1" y1="304.2" x2="334.1" y2="307.2" stroke="#777" stroke-width="0.80"/>
<line x1="358.4" y1="489.8" x2="358.4" y2="486.8" stroke="#777" stroke-width="0.80"/>
<line x1="358.4" y1="304.2" x2="358.4" y2="307.2" stroke="#777" stroke-width="0.80"/>
<line x1="66.5" y1="304.2" x2="69.5" y2="304.2" stroke="#777" stroke-width="0.80"/>
<line x1="358.4" y1="304.2" x2="355.4" y2="304.2" stroke="#777" stroke-width="0.80"/>
<line x1="66.5" y1="335.1" x2="69.5" y2="335.1" stroke="#777" stroke-width="0.80"/>
<line x1="358.4" y1="335.1" x2="355.4" y2="335.1" stroke="#777" stroke-width="0.80"/>
<line x1="66.5" y1="366.1" x2="69.5" y2="366.1" stroke="#777" stroke-width="0.80"/>
<line x1="358.4" y1="366.1" x2="355.4" y2="366.1" stroke="#777" stroke-width="0.80"/>
<line x1="66.5" y1="397.0" x2="69.5" y2="397.0" stroke="#777" stroke-width="0.80"/>
<line x1="358.4" y1="397.0" x2="355.4" y2="397.0" stroke="#777" stroke-width="0.80"/>
<line x1="66.5" y1="427.9" x2="69.5" y2="427.9" stroke="#777" stroke-width="0.80"/>
<line x1="358.4" y1="427.9" x2="355.4" y2="427.9" stroke="#777" stroke-width="0.80"/>
<line x1="66.5" y1="458.9" x2="69.5" y2="458.9" stroke="#777" stroke-width="0.80"/>
<line x1="358.4" y1="458.9" x2="355.4" y2="458.9" stroke="#777" stroke-width="0.80"/>
<line x1="66.5" y1="489.8" x2="69.5" y2="489.8" stroke="#777" stroke-width="0.80"/>
<line x1="358.4" y1="489.8" x2="355.4" y2="489.8" stroke="#777" stroke-width="0.80"/>
<text x="60.8" y="504.5" font-family="'Liberation Serif', 'DejaVu Serif', serif" font-size="10" fill="#222" textLength="11.4" lengthAdjust="spacingAndGlyphs">5.6</text>
<text x="83.0" y="504.5" font-family="'Liberation Serif', 'DejaVu Serif', serif" font-size="10" fill="#222" textLength="15.6" lengthAdjust="spacingAndGlyphs">5.65</text>
<text x="109.4" y="504.5" font-family="'Liberation Serif', 'DejaVu Serif', serif" font-size="10" fill="#222" textLength="11.4" lengthAdjust="spacingAndGlyphs">5.7</text>
<text x="131.7" y="504.5" font-family="'Liberation Serif', 'DejaVu Serif', serif" font-size="10" fill="#222" textLength="15.6" lengthAdjust="spacingAndGlyphs">5.75</text>
<text x="158.1" y="504.5" font-family="'Liberation Serif', 'DejaVu Serif', serif" font-size="10" fill="#222" textLength="11.4" lengthAdjust="spacingAndGlyphs">5.8</text>
<text x="180.3" y="504.5" font-family="'Liberation Serif', 'DejaVu Serif', serif" font-size="10" fill="#222" textLength="15.6" lengthAdjust="spacingAndGlyphs">5.85</text>
<text x="206.7" y="504.5" font-family="'Liberation Serif', 'DejaVu Serif', serif" font-size="10" fill="#222" textLength="11.4" lengthAdjust="spacingAndGlyphs">5.9</text>
<text x="229.0" y="504.5" font-family="'Liberation Serif', 'DejaVu Serif', serif" font-size="10" fill="#222" textLength="15.6" lengthAdjust="spacingAndGlyphs">5.95</text>
<text x="259.0" y="504.5" font-family="'Liberation Serif', 'DejaVu Serif', serif" font-size="10" fill="#222" textLength="4.2" lengthAdjust="spacingAndGlyphs">6</text>
<text x="277.6" y="504.5" font-family="'Liberation Serif', 'DejaVu Serif', serif" font-size="10" fill="#222" textLength="15.6" lengthAdjust="spacingAndGlyphs">6.05</text>
<text x="304.1" y="504.5" font-family="'Liberation Serif', 'DejaVu Serif', serif" font-size="10" fill="#222" textLength="11.4" lengthAdjust="spacingAndGlyphs">6.1</text>
<text x="326.3" y="504.5" font-family="'Liberation Serif', 'DejaVu Serif', serif" font-size="10" fill="#222" textLength="15.6" lengthAdjust="spacingAndGlyphs">6.15</text>
<text x="352.7" y="504.5" font-family="'Liberation Serif', 'DejaVu Serif', serif" font-size="10" fill="#222" textLength="11.4" lengthAdjust="spacingAndGlyphs">6.2</text>
<text x="58.2" y="307.7" font-family="'Liberation Serif', 'DejaVu Serif', serif" font-size="10.4" fill="#222" textLength="4.6" lengthAdjust="spacingAndGlyphs">0</text>
<text x="55.2" y="338.6" font-family="'Liberation Serif', 'DejaVu Serif', serif" font-size="10.4" fill="#222" textLength="7.6" lengthAdjust="spacingAndGlyphs">-5</text>
<text x="51.0" y="369.6" font-family="'Liberation Serif', 'DejaVu Serif', serif" font-size="10.4" fill="#222" textLength="11.8" lengthAdjust="spacingAndGlyphs">-10</text>
<text x="51.0" y="400.5" font-family="'Liberation Serif', 'DejaVu Serif', serif" font-size="10.4" fill="#222" textLength="11.8" lengthAdjust="spacingAndGlyphs">-15</text>
<text x="51.0" y="431.4" font-family="'Liberation Serif', 'DejaVu Serif', serif" font-size="10.4" fill="#222" textLength="11.8" lengthAdjust="spacingAndGlyphs">-20</text>
<text x="51.0" y="462.4" font-family="'Liberation Serif', 'DejaVu Serif', serif" font-size="10.4" fill="#222" textLength="11.8" lengthAdjust="spacingAndGlyphs">-25</text>
<text x="51.0" y="493.3" font-family="'Liberation Serif', 'DejaVu Serif', serif" font-size="10.4" fill="#222" textLength="11.8" lengthAdjust="spacingAndGlyphs">-30</text>
<text x="212.1" y="519.6" font-family="'Liberation Serif', 'DejaVu Serif', serif" font-size="11" fill="#222" text-anchor="middle" textLength="67.4" lengthAdjust="spacingAndGlyphs">Frequency, GHz</text>
<text transform="translate(47.4,433.9) rotate(-90)" font-family="'Liberation Serif', 'DejaVu Serif', serif" font-size="11.4" fill="#222" textLength="72.8" lengthAdjust="spacingAndGlyphs" stroke="#222" stroke-width="0.25">|S11|,|S21|, dB</text>
<text x="213.4" y="543.6" font-family="'Liberation Serif', 'DejaVu Serif', serif" font-size="11" fill="#111" text-anchor="middle">(<tspan font-weight="bold">b</tspan>)</text>
<rect x="243.2" y="434.0" width="114.8" height="54.9" fill="#fff" stroke="#666" stroke-width="1"/>
<line x1="245.2" y1="440.6" x2="261.4" y2="440.6" stroke="#0000ff" stroke-width="1.6" stroke-dasharray="4.6 2.6"/>
<text x="264.4" y="444.4" font-family="'Liberation Serif', 'DejaVu Serif', serif" font-size="11.6" fill="#111" textLength="91.6" lengthAdjust="spacingAndGlyphs">|S11| decreased coupling</text>
<line x1="245.2" y1="454.8" x2="261.4" y2="454.8" stroke="#0000ff" stroke-width="1.6"/>
<text x="264.4" y="458.6" font-family="'Liberation Serif', 'DejaVu Serif', serif" font-size="11.6" fill="#111" textLength="88.4" lengthAdjust="spacingAndGlyphs">|S11| increased coupling</text>
<line x1="245.2" y1="468.9" x2="261.4" y2="468.9" stroke="#ff0000" stroke-width="1.6" stroke-dasharray="4.6 2.6"/>
<text x="264.4" y="472.7" font-family="'Liberation Serif', 'DejaVu Serif', serif" font-size="11.6" fill="#111" textLength="91.6" lengthAdjust="spacingAndGlyphs">|S21| decreased coupling</text>
<line x1="245.2" y1="483.1" x2="261.4" y2="483.1" stroke="#ff0000" stroke-width="1.6"/>
<text x="264.4" y="486.9" font-family="'Liberation Serif', 'DejaVu Serif', serif" font-size="11.6" fill="#111" textLength="88.4" lengthAdjust="spacingAndGlyphs">|S21| increased coupling</text>
</svg>
</body></html>
